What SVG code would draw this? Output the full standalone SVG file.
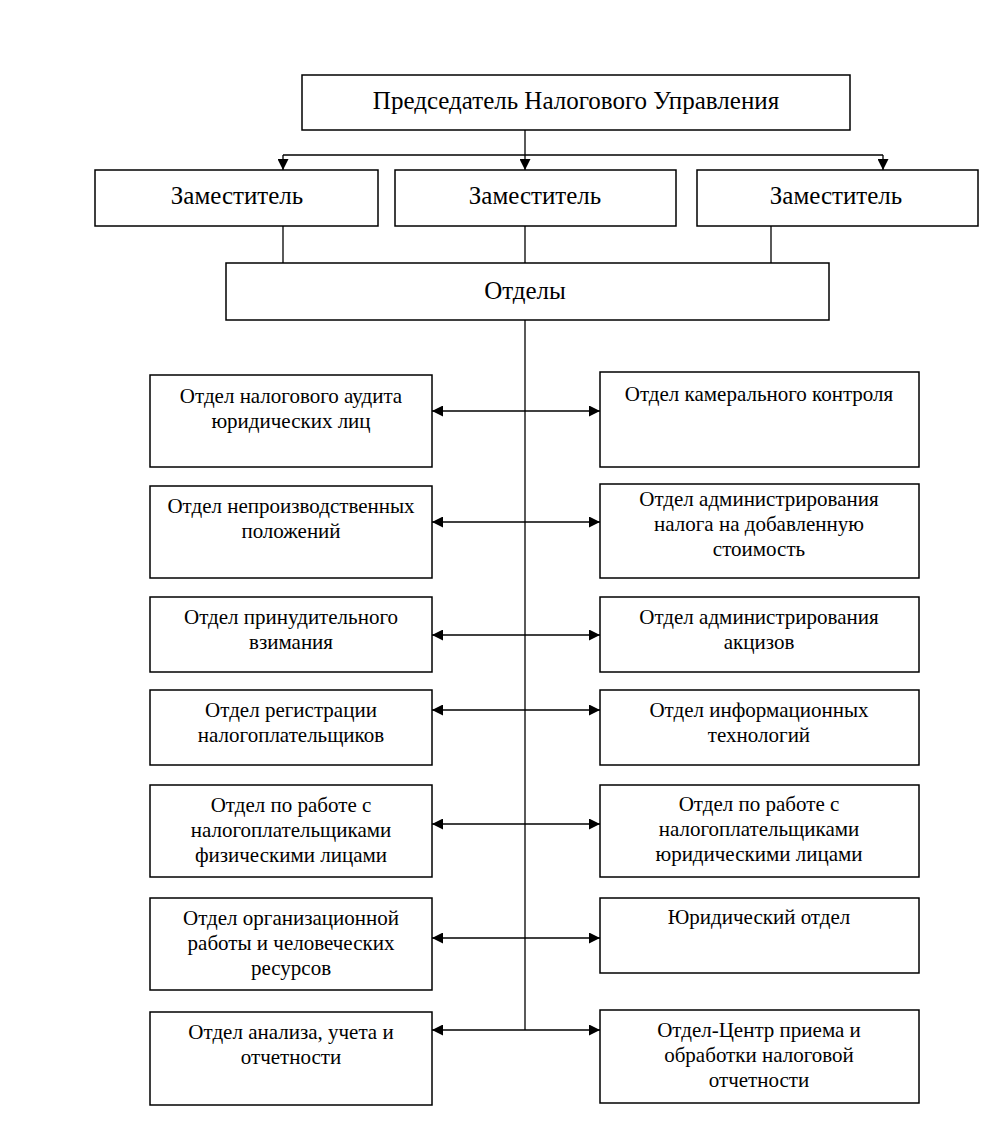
<svg xmlns="http://www.w3.org/2000/svg" width="993" height="1121" viewBox="0 0 993 1121">
<style>
rect{fill:#fff;stroke:#000;stroke-width:1.5}
text{font-family:"Liberation Serif","Times New Roman",serif;fill:#000;text-anchor:middle}
.t1{font-size:25px}
.t2{font-size:21px}
.c{stroke:#000;stroke-width:1.3;fill:none}
</style>
<defs>
<marker id="ah" viewBox="0 0 10 10" refX="10" refY="5" markerWidth="11" markerHeight="11" markerUnits="userSpaceOnUse" orient="auto-start-reverse"><path d="M0,0 L10,5 L0,10 z" fill="#000"/></marker>
</defs>
<rect x="0" y="0" width="993" height="1121" style="fill:#fff;stroke:none"/>
<g id="connectors">
<line class="c" x1="525" y1="130" x2="525" y2="170" marker-end="url(#ah)"/>
<line class="c" x1="283" y1="155" x2="883" y2="155"/>
<line class="c" x1="283" y1="155" x2="283" y2="170" marker-end="url(#ah)"/>
<line class="c" x1="883" y1="155" x2="883" y2="170" marker-end="url(#ah)"/>
<line class="c" x1="283" y1="226" x2="283" y2="263"/>
<line class="c" x1="525" y1="226" x2="525" y2="263"/>
<line class="c" x1="771" y1="226" x2="771" y2="263"/>
<line class="c" x1="525" y1="320" x2="525" y2="1030"/>
<line class="c" x1="432" y1="411" x2="600" y2="411" marker-start="url(#ah)" marker-end="url(#ah)"/>
<line class="c" x1="432" y1="522" x2="600" y2="522" marker-start="url(#ah)" marker-end="url(#ah)"/>
<line class="c" x1="432" y1="635" x2="600" y2="635" marker-start="url(#ah)" marker-end="url(#ah)"/>
<line class="c" x1="432" y1="710" x2="600" y2="710" marker-start="url(#ah)" marker-end="url(#ah)"/>
<line class="c" x1="432" y1="824" x2="600" y2="824" marker-start="url(#ah)" marker-end="url(#ah)"/>
<line class="c" x1="432" y1="938" x2="600" y2="938" marker-start="url(#ah)" marker-end="url(#ah)"/>
<line class="c" x1="432" y1="1030" x2="600" y2="1030" marker-start="url(#ah)" marker-end="url(#ah)"/>
</g>
<g id="chair"><rect x="302" y="75" width="548" height="55"/><text class="t1" x="576" y="109">Председатель Налогового Управления</text></g>
<g id="dep1"><rect x="95" y="170" width="283" height="56"/><text class="t1" x="237" y="204">Заместитель</text></g>
<g id="dep2"><rect x="395" y="170" width="281" height="56"/><text class="t1" x="535" y="204">Заместитель</text></g>
<g id="dep3"><rect x="697" y="170" width="281" height="56"/><text class="t1" x="836" y="204">Заместитель</text></g>
<g id="otdely"><rect x="226" y="263" width="603" height="57"/><text class="t1" x="525" y="299">Отделы</text></g>

<g id="l1"><rect x="150" y="375" width="282" height="92"/><text class="t2" x="291" y="403">Отдел налогового аудита</text><text class="t2" x="291" y="428">юридических лиц</text></g>
<g id="l2"><rect x="150" y="486" width="282" height="92"/><text class="t2" x="291" y="513">Отдел непроизводственных</text><text class="t2" x="291" y="538">положений</text></g>
<g id="l3"><rect x="150" y="597" width="282" height="75"/><text class="t2" x="291" y="624">Отдел принудительного</text><text class="t2" x="291" y="649">взимания</text></g>
<g id="l4"><rect x="150" y="690" width="282" height="75"/><text class="t2" x="291" y="717">Отдел регистрации</text><text class="t2" x="291" y="742">налогоплательщиков</text></g>
<g id="l5"><rect x="150" y="785" width="282" height="92"/><text class="t2" x="291" y="812">Отдел по работе с</text><text class="t2" x="291" y="837">налогоплательщиками</text><text class="t2" x="291" y="862">физическими лицами</text></g>
<g id="l6"><rect x="150" y="898" width="282" height="92"/><text class="t2" x="291" y="925">Отдел организационной</text><text class="t2" x="291" y="950">работы и человеческих</text><text class="t2" x="291" y="975">ресурсов</text></g>
<g id="l7"><rect x="150" y="1012" width="282" height="93"/><text class="t2" x="291" y="1039">Отдел анализа, учета и</text><text class="t2" x="291" y="1064">отчетности</text></g>

<g id="r1"><rect x="600" y="372" width="319" height="95"/><text class="t2" x="759" y="401">Отдел камерального контроля</text></g>
<g id="r2"><rect x="600" y="484" width="319" height="94"/><text class="t2" x="759" y="506">Отдел администрирования</text><text class="t2" x="759" y="531">налога на добавленную</text><text class="t2" x="759" y="556">стоимость</text></g>
<g id="r3"><rect x="600" y="597" width="319" height="75"/><text class="t2" x="759" y="624">Отдел администрирования</text><text class="t2" x="759" y="649">акцизов</text></g>
<g id="r4"><rect x="600" y="690" width="319" height="75"/><text class="t2" x="759" y="717">Отдел информационных</text><text class="t2" x="759" y="742">технологий</text></g>
<g id="r5"><rect x="600" y="785" width="319" height="92"/><text class="t2" x="759" y="811">Отдел по работе с</text><text class="t2" x="759" y="836">налогоплательщиками</text><text class="t2" x="759" y="861">юридическими лицами</text></g>
<g id="r6"><rect x="600" y="898" width="319" height="75"/><text class="t2" x="759" y="924">Юридический отдел</text></g>
<g id="r7"><rect x="600" y="1010" width="319" height="93"/><text class="t2" x="759" y="1037">Отдел-Центр приема и</text><text class="t2" x="759" y="1062">обработки налоговой</text><text class="t2" x="759" y="1087">отчетности</text></g>
</svg>
